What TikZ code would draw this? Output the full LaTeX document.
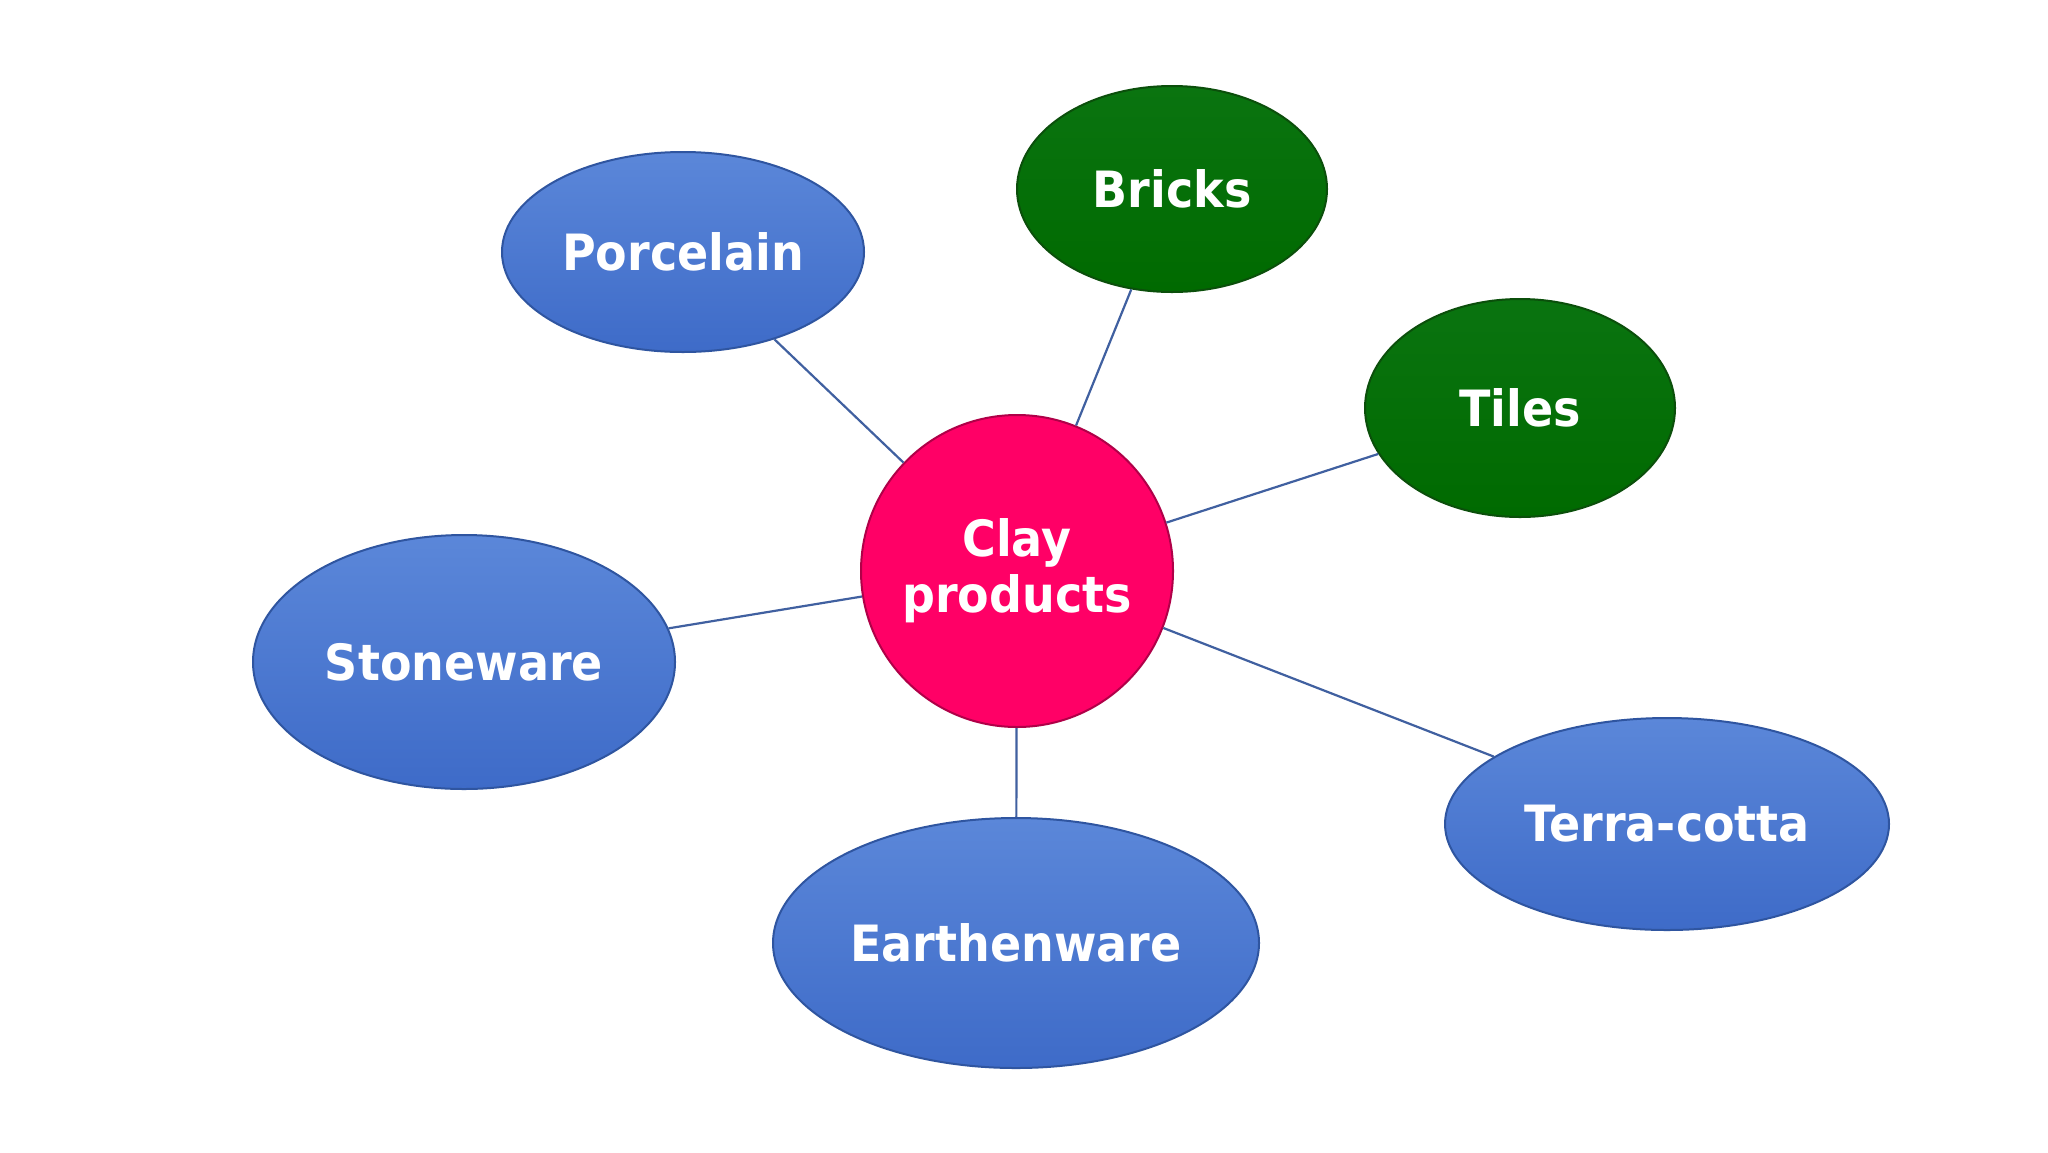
\documentclass[tikz,border=0pt]{standalone}
\usepackage{fontspec}
\setmainfont{DejaVu Sans}
\newfontfamily\lblfont[FakeStretch=0.92]{DejaVu Sans Bold}
\usetikzlibrary{shapes.geometric}
\definecolor{bluetop}{HTML}{5B87D9}
\definecolor{bluebot}{HTML}{3E6BC8}
\definecolor{blueedge}{HTML}{2F55A0}
\definecolor{greentop}{HTML}{0A7410}
\definecolor{greenbot}{HTML}{006A00}
\definecolor{greenedge}{HTML}{0B4F0B}
\definecolor{pinkfill}{HTML}{FF0066}
\definecolor{pinkedge}{HTML}{B00048}
\definecolor{linkcol}{HTML}{4060A0}
\newcommand{\zw}[1]{\makebox[0pt]{#1}}
\tikzset{
  x=0.5pt, y=-0.5pt,
  lbl/.style={font=\lblfont\fontsize{25}{28}\selectfont, text=white, align=center, inner sep=0pt},
  blueov/.style={ellipse, lbl, draw=blueedge, line width=1pt, top color=bluetop, bottom color=bluebot},
  greenov/.style={ellipse, lbl, draw=greenedge, line width=1pt, top color=greentop, bottom color=greenbot},
  hub/.style={circle, lbl, draw=pinkedge, line width=1pt, fill=pinkfill},
  link/.style={draw=linkcol, line width=1.1pt}
}
\begin{document}
\begin{tikzpicture}
\useasboundingbox (0,0) rectangle (2048,1152);
\fill[white] (0,0) rectangle (2048,1152);
\node[hub, minimum size=156pt] (c) at (1017,571) {Clay\\products};
\node[blueov, minimum width=181pt, minimum height=100pt] (p) at (683,252) {\zw{Porcelain}};
\node[greenov, minimum width=155pt, minimum height=103pt] (b) at (1172,189) {\zw{Bricks}};
\node[greenov, minimum width=155pt, minimum height=109pt] (t) at (1520,408) {\zw{Tiles}};
\node[blueov, minimum width=211pt, minimum height=127pt] (s) at (464,662) {\zw{Stoneware}};
\node[blueov, minimum width=243pt, minimum height=125pt] (e) at (1016,943) {\zw{Earthenware}};
\node[blueov, minimum width=222pt, minimum height=106pt] (tc) at (1667,824) {\zw{Terra-cotta}};
\draw[link] (c) -- (p);
\draw[link] (c) -- (b);
\draw[link] (c) -- (t);
\draw[link] (c) -- (s);
\draw[link] (c) -- (e);
\draw[link] (c) -- (tc);
\end{tikzpicture}
\end{document}
